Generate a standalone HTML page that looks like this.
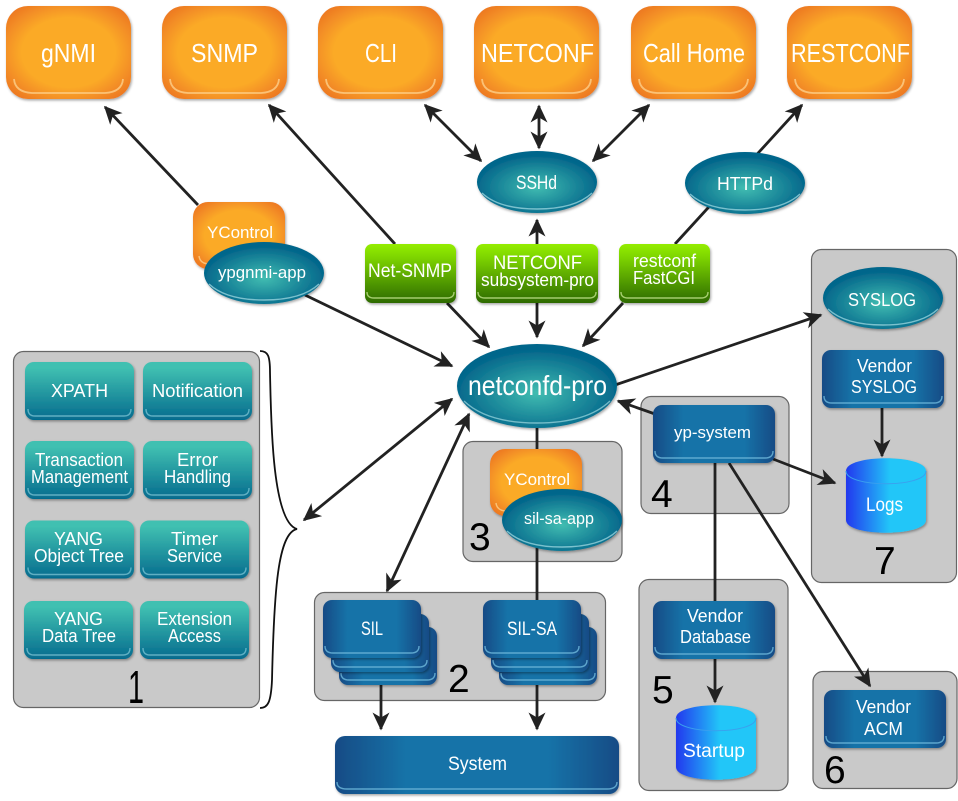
<!DOCTYPE html>
<html><head><meta charset="utf-8"><style>
html,body{margin:0;padding:0;background:#fff;width:958px;height:801px;overflow:hidden}
svg{display:block}
text{font-family:"Liberation Sans",sans-serif;fill:#fff}
.n{fill:#000;font-size:39px}
.p{fill:#c9c9c9;stroke:#666;stroke-width:1.2}
.c{stroke:#222;stroke-width:2.8;fill:none}
.g{fill:none;stroke-width:1.4}
</style></head><body>
<svg width="958" height="801" viewBox="0 0 958 801" xmlns="http://www.w3.org/2000/svg">
<defs>
<radialGradient id="go" cx=".5" cy=".5" r=".68"><stop offset=".55" stop-color="#fbaa28"/><stop offset="1" stop-color="#ea6e22"/></radialGradient>
<radialGradient id="ge" cx=".5" cy=".58" r=".6"><stop offset="0" stop-color="#41bdb1"/><stop offset=".85" stop-color="#03668b"/></radialGradient>
<linearGradient id="gr" x1="0" y1="0" x2="0" y2="1"><stop offset="0" stop-color="#94ed00"/><stop offset=".2" stop-color="#80d800"/><stop offset="1" stop-color="#2d6a00"/></linearGradient>
<linearGradient id="gt" x1="0" y1="0" x2="0" y2="1"><stop offset=".1" stop-color="#40c0b1"/><stop offset="1" stop-color="#056b8e"/></linearGradient>
<linearGradient id="gb" x1="0" y1="0" x2="1" y2="0"><stop offset="0" stop-color="#144b85"/><stop offset=".25" stop-color="#1673a8"/><stop offset=".75" stop-color="#1673a8"/><stop offset="1" stop-color="#144b85"/></linearGradient>
<linearGradient id="gc" x1="0" y1="0" x2="1" y2="0"><stop offset="0" stop-color="#2038ee"/><stop offset=".55" stop-color="#20c6f8"/><stop offset="1" stop-color="#20c6f8"/></linearGradient>
<filter id="s" x="-10%" y="-10%" width="125%" height="125%"><feDropShadow dx="1" dy="1.5" stdDeviation="1.2" flood-color="#000" flood-opacity=".35"/></filter>
<marker id="a" markerUnits="userSpaceOnUse" markerWidth="22" markerHeight="20" refX="16.500" refY="9.500" orient="auto-start-reverse"><path d="M0,1 L18,9.500 L0,18 L5,9.500 Z" fill="#222"/></marker>
<g id="ob"><rect width="125" height="93" rx="22" fill="url(#go)" filter="url(#s)"/><path d="M8,73 Q9,86 26,87 H99 Q116,86 117,73" class="g" style="stroke:#fdd492;stroke-width:1.800;opacity:.75"/></g>
<g id="oy"><rect width="92" height="67" rx="15" fill="url(#go)" filter="url(#s)"/><path d="M6,54 Q7,62 17,62 H75 Q85,62 86,54" class="g" style="stroke:#fdd492;opacity:.75"/></g>
<g id="el"><ellipse rx="60" ry="31" fill="url(#ge)" filter="url(#s)"/><path d="M-55,11 Q-38,27 0,27 Q38,27 55,11" class="g" style="stroke:#9ed8e0;opacity:.75"/></g>
<g id="el2"><ellipse rx="80" ry="42" fill="url(#ge)" filter="url(#s)"/><path d="M-73,15 Q-50,37 0,37 Q50,37 73,15" class="g" style="stroke:#9ed8e0;opacity:.7"/></g>
<g id="tb"><rect width="109" height="58" rx="9" fill="url(#gt)" filter="url(#s)"/><path d="M3,47 Q3,54 10,54 H99 Q106,54 106,47" class="g" style="stroke:#7cc4d4;opacity:.75"/></g>
<g id="bb"><rect width="122" height="58" rx="9" fill="url(#gb)" filter="url(#s)"/><path d="M2,46 Q2,53 10,53 H112 Q120,53 120,46" class="g" style="stroke:#6ab4d8;opacity:.85"/></g>
<g id="sb"><rect width="98" height="58" rx="9" fill="url(#gb)" filter="url(#s)"/><path d="M2,46 Q2,53 10,53 H88 Q96,53 96,46" class="g" style="stroke:#6ab4d8;opacity:.85"/></g>
<g id="cy"><path d="M0,13 C0,-4 80,-4 80,13 V62 C80,79 0,79 0,62 Z" fill="url(#gc)" filter="url(#s)"/><path d="M0,13 C0,30 80,30 80,13" fill="none" stroke="#3aa0ee" stroke-width="1"/></g>
</defs>

<!-- panels -->
<rect class="p" x="13.5" y="351.5" width="246" height="356" rx="10"/>
<rect class="p" x="314.5" y="592.5" width="291" height="108" rx="10"/>
<rect class="p" x="463" y="441.5" width="159" height="120" rx="10"/>
<rect class="p" x="641" y="396.5" width="148" height="117" rx="10"/>
<rect class="p" x="639" y="579.5" width="149" height="211" rx="10"/>
<rect class="p" x="813" y="671.5" width="144" height="117" rx="10"/>
<rect class="p" x="811.5" y="249.5" width="145" height="333" rx="10"/>

<path d="M260,351 C268,351 270,356 270,372 C271,420 272,522 297,529 C278,533 274,590 272,680 C271,702 268,708 260,708" fill="none" stroke="#111" stroke-width="1.8"/>

<!-- connectors -->
<g class="c">
<line x1="198" y1="205" x2="105" y2="107" marker-end="url(#a)"/>
<line x1="395" y1="244" x2="269" y2="105" marker-end="url(#a)"/>
<line x1="425" y1="105" x2="481" y2="161" marker-start="url(#a)" marker-end="url(#a)"/>
<line x1="539" y1="106" x2="539" y2="148" marker-start="url(#a)" marker-end="url(#a)"/>
<line x1="593" y1="161" x2="649" y2="105" marker-start="url(#a)" marker-end="url(#a)"/>
<line x1="675" y1="244" x2="802" y2="105" marker-end="url(#a)"/>
<line x1="537" y1="244" x2="537" y2="220" marker-end="url(#a)"/>
<line x1="447" y1="303" x2="489" y2="347" marker-end="url(#a)"/>
<line x1="537" y1="303" x2="537" y2="337" marker-end="url(#a)"/>
<line x1="623" y1="303" x2="583" y2="346" marker-end="url(#a)"/>
<line x1="305" y1="295" x2="452" y2="366" marker-end="url(#a)"/>
<line x1="615" y1="385" x2="821" y2="315" marker-end="url(#a)"/>
<line x1="655" y1="414" x2="618" y2="401" marker-end="url(#a)"/>
<line x1="304" y1="520" x2="452" y2="399" marker-start="url(#a)" marker-end="url(#a)"/>
<line x1="387" y1="591" x2="469" y2="414" marker-start="url(#a)" marker-end="url(#a)"/>
<line x1="537" y1="425" x2="537" y2="602"/>
<line x1="381" y1="685" x2="381" y2="729" marker-end="url(#a)"/>
<line x1="537" y1="685" x2="537" y2="729" marker-end="url(#a)"/>
<line x1="773" y1="459" x2="835" y2="483" marker-end="url(#a)"/>
<line x1="715" y1="463" x2="715" y2="603"/>
<line x1="715" y1="657" x2="715" y2="702" marker-end="url(#a)"/>
<line x1="729" y1="463" x2="870" y2="686" marker-end="url(#a)"/>
<line x1="882" y1="406" x2="882" y2="456" marker-end="url(#a)"/>
</g>

<!-- top orange -->
<use href="#ob" x="6" y="6"/><use href="#ob" x="162" y="6"/><use href="#ob" x="318" y="6"/>
<use href="#ob" x="474" y="6"/><use href="#ob" x="631" y="6"/><use href="#ob" x="787" y="6"/>
<g font-size="26">
<text x="41" y="62" textLength="55" lengthAdjust="spacingAndGlyphs">gNMI</text>
<text x="191" y="62" textLength="67" lengthAdjust="spacingAndGlyphs">SNMP</text>
<text x="365" y="62" textLength="32" lengthAdjust="spacingAndGlyphs">CLI</text>
<text x="481" y="62" textLength="113" lengthAdjust="spacingAndGlyphs">NETCONF</text>
<text x="643" y="62" textLength="102" lengthAdjust="spacingAndGlyphs">Call Home</text>
<text x="791" y="62" textLength="119" lengthAdjust="spacingAndGlyphs">RESTCONF</text>
</g>

<!-- YControl + ypgnmi -->
<use href="#oy" x="193" y="202"/>
<text x="207" y="238" font-size="16.5" textLength="66" lengthAdjust="spacingAndGlyphs">YControl</text>
<use href="#el" x="264" y="273"/>
<text x="218" y="278" font-size="17" textLength="88" lengthAdjust="spacingAndGlyphs">ypgnmi-app</text>

<!-- SSHd / HTTPd -->
<use href="#el" x="537" y="182"/>
<text x="516" y="189" font-size="19" textLength="41" lengthAdjust="spacingAndGlyphs">SSHd</text>
<use href="#el" x="745" y="183"/>
<text x="717" y="190" font-size="18" textLength="56" lengthAdjust="spacingAndGlyphs">HTTPd</text>

<!-- green -->
<rect x="365" y="244" width="91" height="59" rx="7" fill="url(#gr)" filter="url(#s)"/>
<path d="M367,292 Q367,298 374,298 H447 Q454,298 454,292" class="g" style="stroke:#bfe28a;opacity:.8"/>
<rect x="476" y="244" width="122" height="59" rx="7" fill="url(#gr)" filter="url(#s)"/>
<path d="M478,292 Q478,298 485,298 H589 Q596,298 596,292" class="g" style="stroke:#bfe28a;opacity:.8"/>
<rect x="619" y="244" width="91" height="59" rx="7" fill="url(#gr)" filter="url(#s)"/>
<path d="M621,292 Q621,298 628,298 H701 Q708,298 708,292" class="g" style="stroke:#bfe28a;opacity:.8"/>
<text x="368" y="277" font-size="19" textLength="84" lengthAdjust="spacingAndGlyphs">Net-SNMP</text>
<text x="493" y="269" font-size="19" textLength="89" lengthAdjust="spacingAndGlyphs">NETCONF</text>
<text x="481" y="286" font-size="18" textLength="113" lengthAdjust="spacingAndGlyphs">subsystem-pro</text>
<text x="633" y="267" font-size="18" textLength="63" lengthAdjust="spacingAndGlyphs">restconf</text>
<text x="633" y="284" font-size="18" textLength="62" lengthAdjust="spacingAndGlyphs">FastCGI</text>

<!-- netconfd -->
<use href="#el2" x="537" y="386"/>
<text x="468" y="395" font-size="28" textLength="139" lengthAdjust="spacingAndGlyphs">netconfd-pro</text>

<!-- panel 1 -->
<use href="#tb" x="25" y="362"/><use href="#tb" x="143" y="362"/>
<use href="#tb" x="25" y="441"/><use href="#tb" x="143" y="441"/>
<use href="#tb" x="25" y="520.500"/><use href="#tb" x="140" y="520.500"/>
<use href="#tb" x="24" y="601"/><use href="#tb" x="140" y="601"/>
<g font-size="18">
<text x="51" y="397" textLength="57" lengthAdjust="spacingAndGlyphs">XPATH</text>
<text x="152" y="397" textLength="91" lengthAdjust="spacingAndGlyphs">Notification</text>
<text x="35" y="466" textLength="88" lengthAdjust="spacingAndGlyphs">Transaction</text>
<text x="31" y="483" textLength="97" lengthAdjust="spacingAndGlyphs">Management</text>
<text x="177" y="466" textLength="41" lengthAdjust="spacingAndGlyphs">Error</text>
<text x="164" y="483" textLength="67" lengthAdjust="spacingAndGlyphs">Handling</text>
<text x="54" y="545" textLength="49" lengthAdjust="spacingAndGlyphs">YANG</text>
<text x="34" y="562" textLength="90" lengthAdjust="spacingAndGlyphs">Object Tree</text>
<text x="171" y="545" textLength="47" lengthAdjust="spacingAndGlyphs">Timer</text>
<text x="167" y="562" textLength="55" lengthAdjust="spacingAndGlyphs">Service</text>
<text x="54" y="625" textLength="49" lengthAdjust="spacingAndGlyphs">YANG</text>
<text x="42" y="642" textLength="74" lengthAdjust="spacingAndGlyphs">Data Tree</text>
<text x="157" y="625" textLength="75" lengthAdjust="spacingAndGlyphs">Extension</text>
<text x="168" y="642" textLength="53" lengthAdjust="spacingAndGlyphs">Access</text>
</g>
<text class="n" x="128" y="703" style="font-size:46px" textLength="16" lengthAdjust="spacingAndGlyphs">1</text>

<!-- panel 2 -->
<use href="#sb" x="339" y="627"/><use href="#sb" x="331" y="614"/><use href="#sb" x="323" y="600"/>
<use href="#sb" x="499" y="627"/><use href="#sb" x="491" y="614"/><use href="#sb" x="483" y="600"/>
<text x="361" y="635" font-size="19" textLength="22" lengthAdjust="spacingAndGlyphs">SIL</text>
<text x="507" y="635" font-size="19" textLength="50" lengthAdjust="spacingAndGlyphs">SIL-SA</text>
<text class="n" x="448" y="692">2</text>

<!-- panel 3 -->
<use href="#oy" x="490" y="449"/>
<text x="504" y="485" font-size="16.5" textLength="66" lengthAdjust="spacingAndGlyphs">YControl</text>
<use href="#el" x="562" y="520"/>
<text x="524" y="524" font-size="17" textLength="70" lengthAdjust="spacingAndGlyphs">sil-sa-app</text>
<text class="n" x="469" y="550">3</text>

<!-- system -->
<rect x="335" y="736" width="284" height="58" rx="10" fill="url(#gb)" filter="url(#s)"/>
<path d="M337,782 Q337,789 347,789 H607 Q617,789 617,782" class="g" style="stroke:#6ab4d8;opacity:.85"/>
<text x="448" y="770" font-size="19" textLength="59" lengthAdjust="spacingAndGlyphs">System</text>

<!-- panel 4 -->
<use href="#bb" x="653" y="405"/>
<text x="674" y="438" font-size="17" textLength="77" lengthAdjust="spacingAndGlyphs">yp-system</text>
<text class="n" x="651" y="507">4</text>

<!-- panel 5 -->
<use href="#bb" x="653" y="601"/>
<text x="687" y="622" font-size="18" textLength="56" lengthAdjust="spacingAndGlyphs">Vendor</text>
<text x="680" y="643" font-size="18" textLength="71" lengthAdjust="spacingAndGlyphs">Database</text>
<use href="#cy" x="676" y="705"/>
<text x="683" y="757" font-size="19" textLength="62" lengthAdjust="spacingAndGlyphs">Startup</text>
<text class="n" x="652" y="703">5</text>

<!-- panel 6 -->
<use href="#bb" x="824" y="690"/>
<text x="856" y="713" font-size="18" textLength="55" lengthAdjust="spacingAndGlyphs">Vendor</text>
<text x="864" y="735" font-size="18" textLength="39" lengthAdjust="spacingAndGlyphs">ACM</text>
<text class="n" x="824" y="783">6</text>

<!-- panel 7 -->
<use href="#el" x="883" y="298"/>
<text x="848" y="306" font-size="18" textLength="68" lengthAdjust="spacingAndGlyphs">SYSLOG</text>
<use href="#bb" x="822" y="350"/>
<text x="857" y="372" font-size="18" textLength="55" lengthAdjust="spacingAndGlyphs">Vendor</text>
<text x="851" y="393" font-size="18" textLength="66" lengthAdjust="spacingAndGlyphs">SYSLOG</text>
<use href="#cy" x="846" y="458"/>
<text x="866" y="511" font-size="19" textLength="37" lengthAdjust="spacingAndGlyphs">Logs</text>
<text class="n" x="874" y="574">7</text>
</svg>
</body></html>
